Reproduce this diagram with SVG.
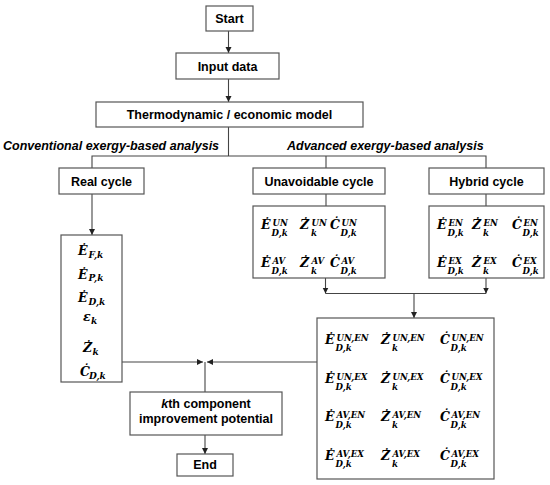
<svg xmlns="http://www.w3.org/2000/svg" width="550" height="485" viewBox="0 0 550 485">
<style>
.box{fill:#fff;stroke:#555;stroke-width:1.2}
.ln{fill:none;stroke:#444;stroke-width:1.1}
.lbl{font-family:"Liberation Sans",Arial,sans-serif;font-weight:bold;font-size:12.5px;text-anchor:middle;fill:#000}
.hdr{font-family:"Liberation Sans",Arial,sans-serif;font-weight:bold;font-style:italic;font-size:12.5px;fill:#000}
.m{font-family:"DejaVu Serif",serif;font-weight:bold;font-style:italic;font-size:12.5px;fill:#000}
.s{font-family:"DejaVu Serif",serif;font-weight:bold;font-style:italic;font-size:8.6px;fill:#000}
.ls{font-family:"DejaVu Serif",serif;font-weight:bold;font-style:italic;font-size:9px;fill:#000}
</style>
<defs>
<marker id="ah" markerUnits="userSpaceOnUse" markerWidth="7" markerHeight="7" refX="6" refY="3" orient="auto">
<path d="M0,0 L6,3 L0,6 z" fill="#222"/>
</marker>
</defs>
<rect width="550" height="485" fill="#fff"/>

<g id="connectors">
<line class="ln" x1="228.5" y1="31" x2="228.5" y2="53" marker-end="url(#ah)"/>
<line class="ln" x1="228.5" y1="79" x2="228.5" y2="102" marker-end="url(#ah)"/>
<polyline class="ln" points="228.5,127 228.5,156"/>
<polyline class="ln" points="92,168 92,156 486,156 486,168"/>
<line class="ln" x1="326" y1="156" x2="326" y2="168"/>
<line class="ln" x1="92" y1="194" x2="92" y2="235" marker-end="url(#ah)"/>
<line class="ln" x1="326" y1="194" x2="326" y2="206"/>
<line class="ln" x1="486" y1="194" x2="486" y2="206"/>
<line class="ln" x1="325.5" y1="278" x2="325.5" y2="293.5" marker-end="url(#ah)"/>
<line class="ln" x1="486" y1="278" x2="486" y2="293.5" marker-end="url(#ah)"/>
<line class="ln" x1="325.5" y1="293.5" x2="486" y2="293.5"/>
<line class="ln" x1="414" y1="293.5" x2="414" y2="318" marker-end="url(#ah)"/>
<line class="ln" x1="122" y1="362" x2="203" y2="362" marker-end="url(#ah)"/>
<line class="ln" x1="317" y1="362" x2="207" y2="362" marker-end="url(#ah)"/>
<line class="ln" x1="205" y1="392" x2="205" y2="362"/>
<line class="ln" x1="205" y1="435" x2="205" y2="454" marker-end="url(#ah)"/>
</g>

<g id="headers">
<text class="hdr" x="3" y="150">Conventional exergy-based analysis</text>
<text class="hdr" x="287" y="150">Advanced exergy-based analysis</text>
</g>

<g id="start">
<rect class="box" x="206" y="6" width="47" height="25"/>
<text class="lbl" x="229.5" y="23">Start</text>
</g>
<g id="input">
<rect class="box" x="176" y="53" width="103" height="26"/>
<text class="lbl" x="227.5" y="70.5">Input data</text>
</g>
<g id="model">
<rect class="box" x="96" y="102" width="267" height="25"/>
<text class="lbl" x="229.5" y="119">Thermodynamic / economic model</text>
</g>
<g id="real">
<rect class="box" x="59" y="168" width="85" height="26"/>
<text class="lbl" x="101.5" y="185.5">Real cycle</text>
</g>
<g id="unavoidable">
<rect class="box" x="253" y="168" width="132" height="26"/>
<text class="lbl" x="319" y="185.5">Unavoidable cycle</text>
</g>
<g id="hybrid">
<rect class="box" x="429" y="168" width="115" height="26"/>
<text class="lbl" x="486.5" y="185.5">Hybrid cycle</text>
</g>

<g id="real-results">
<rect class="box" x="61" y="235" width="61" height="147"/>
<text class="m" x="78" y="255">Ė</text><text class="ls" x="88.5" y="257.5">F,k</text>
<text class="m" x="78" y="278.5">Ė</text><text class="ls" x="88.5" y="281">P,k</text>
<text class="m" x="78" y="302">Ė</text><text class="ls" x="88.5" y="304.5">D,k</text>
<text class="m" x="83" y="321">ε</text><text class="ls" x="91" y="323.5">k</text>
<text class="m" x="83" y="352">Ż</text><text class="ls" x="92.5" y="354.5">k</text>
<text class="m" x="80" y="376">Ċ</text><text class="ls" x="89" y="378.5">D,k</text>
</g>

<g id="unavoidable-results">
<rect class="box" x="253" y="206" width="132" height="72"/>
<text class="m" x="261" y="229">Ė</text><text class="s" x="272.5" y="226">UN</text><text class="s" x="271.5" y="236">D,k</text>
<text class="m" x="300" y="229">Ż</text><text class="s" x="311.5" y="226">UN</text><text class="s" x="311" y="236">k</text>
<text class="m" x="330" y="229">Ċ</text><text class="s" x="341.5" y="226">UN</text><text class="s" x="340.5" y="236">D,k</text>
<text class="m" x="261" y="267">Ė</text><text class="s" x="272.5" y="264">AV</text><text class="s" x="271.5" y="274">D,k</text>
<text class="m" x="300" y="267">Ż</text><text class="s" x="311.5" y="264">AV</text><text class="s" x="311" y="274">k</text>
<text class="m" x="330" y="267">Ċ</text><text class="s" x="341.5" y="264">AV</text><text class="s" x="340.5" y="274">D,k</text>
</g>

<g id="hybrid-results">
<rect class="box" x="429" y="206" width="115" height="72"/>
<text class="m" x="437" y="229">Ė</text><text class="s" x="448.5" y="226">EN</text><text class="s" x="447.5" y="236">D,k</text>
<text class="m" x="472" y="229">Ż</text><text class="s" x="483.5" y="226">EN</text><text class="s" x="483" y="236">k</text>
<text class="m" x="512" y="229">Ċ</text><text class="s" x="523.5" y="226">EN</text><text class="s" x="522.5" y="236">D,k</text>
<text class="m" x="437" y="267">Ė</text><text class="s" x="448.5" y="264">EX</text><text class="s" x="447.5" y="274">D,k</text>
<text class="m" x="472" y="267">Ż</text><text class="s" x="483.5" y="264">EX</text><text class="s" x="483" y="274">k</text>
<text class="m" x="512" y="267">Ċ</text><text class="s" x="523.5" y="264">EX</text><text class="s" x="522.5" y="274">D,k</text>
</g>

<g id="splitting-results">
<rect class="box" x="317" y="318" width="177" height="161"/>
<text class="m" x="325" y="344">Ė</text><text class="s" x="336.5" y="341">UN,EN</text><text class="s" x="335.5" y="351">D,k</text>
<text class="m" x="381" y="344">Ż</text><text class="s" x="392.5" y="341">UN,EN</text><text class="s" x="392" y="351">k</text>
<text class="m" x="440" y="344">Ċ</text><text class="s" x="451.5" y="341">UN,EN</text><text class="s" x="450.5" y="351">D,k</text>
<text class="m" x="325" y="383">Ė</text><text class="s" x="336.5" y="380">UN,EX</text><text class="s" x="335.5" y="390">D,k</text>
<text class="m" x="381" y="383">Ż</text><text class="s" x="392.5" y="380">UN,EX</text><text class="s" x="392" y="390">k</text>
<text class="m" x="440" y="383">Ċ</text><text class="s" x="451.5" y="380">UN,EX</text><text class="s" x="450.5" y="390">D,k</text>
<text class="m" x="325" y="421">Ė</text><text class="s" x="336.5" y="418">AV,EN</text><text class="s" x="335.5" y="428">D,k</text>
<text class="m" x="381" y="421">Ż</text><text class="s" x="392.5" y="418">AV,EN</text><text class="s" x="392" y="428">k</text>
<text class="m" x="440" y="421">Ċ</text><text class="s" x="451.5" y="418">AV,EN</text><text class="s" x="450.5" y="428">D,k</text>
<text class="m" x="325" y="460">Ė</text><text class="s" x="336.5" y="457">AV,EX</text><text class="s" x="335.5" y="467">D,k</text>
<text class="m" x="381" y="460">Ż</text><text class="s" x="392.5" y="457">AV,EX</text><text class="s" x="392" y="467">k</text>
<text class="m" x="440" y="460">Ċ</text><text class="s" x="451.5" y="457">AV,EX</text><text class="s" x="450.5" y="467">D,k</text>
</g>

<g id="improvement">
<rect class="box" x="130" y="392" width="152" height="43"/>
<text class="lbl" x="206" y="408"><tspan font-style="italic">k</tspan>th component</text>
<text class="lbl" x="206" y="423">improvement potential</text>
</g>
<g id="end">
<rect class="box" x="177" y="454" width="56" height="22"/>
<text class="lbl" x="205" y="469">End</text>
</g>
</svg>
